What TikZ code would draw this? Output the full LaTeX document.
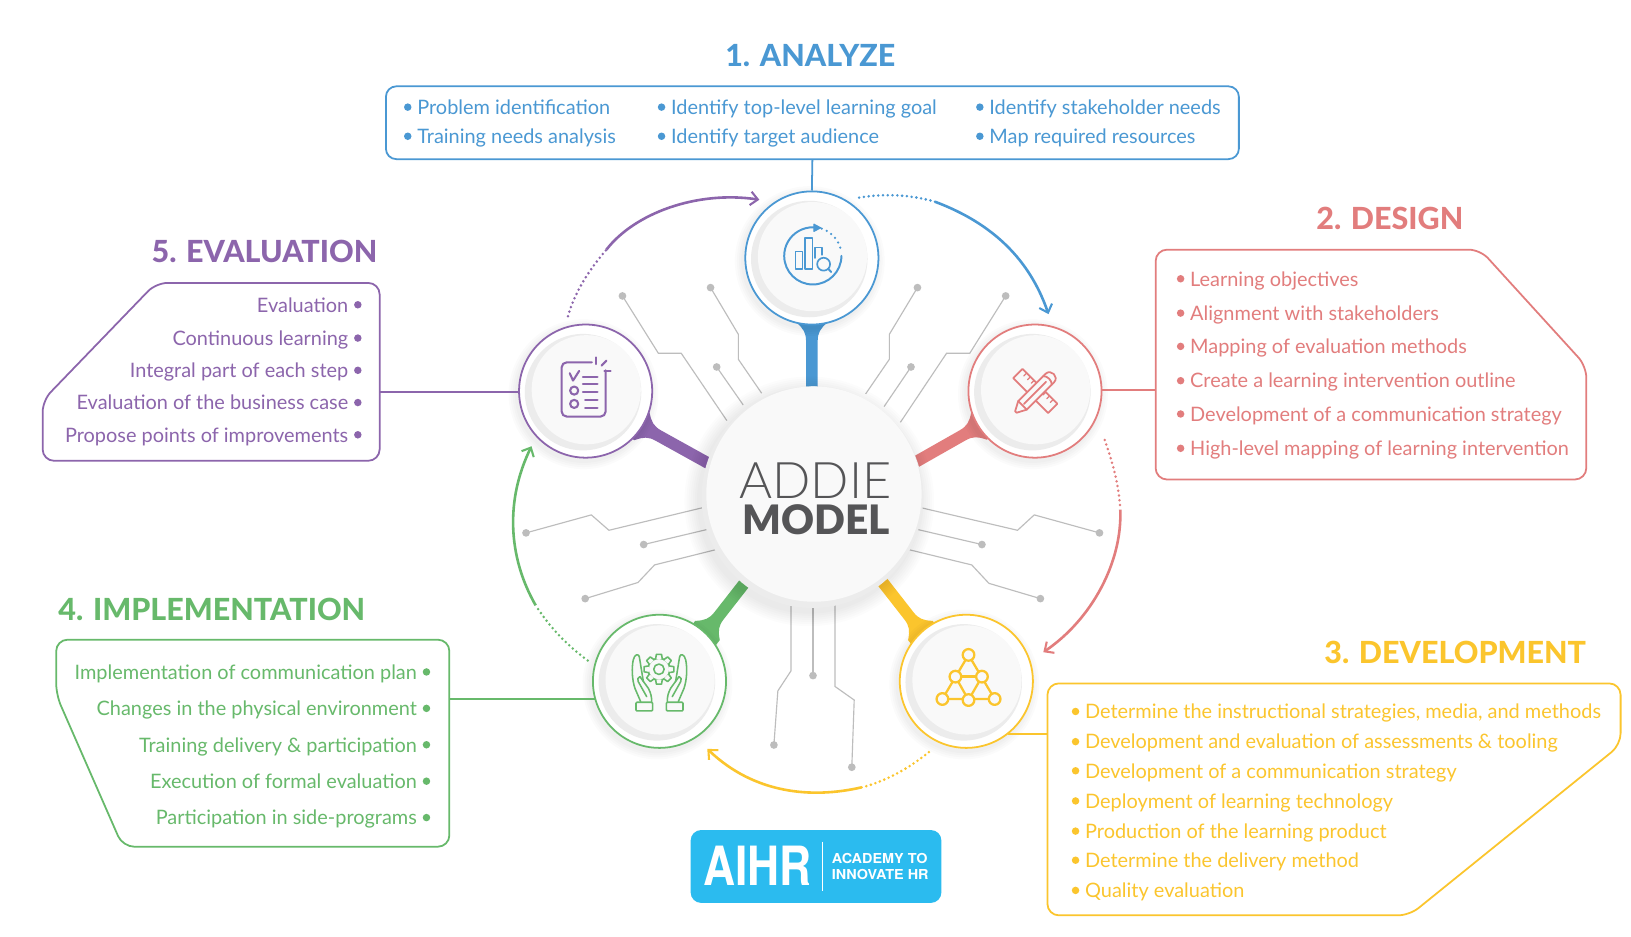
\documentclass[tikz,border=0pt]{standalone}
\usepackage{fontspec}
\setmainfont{Lato}
\newfontfamily\latolight{Lato Light}
\newfontfamily\latoblack{Lato Black}
\newfontfamily\latoheavy{Lato Heavy}
\newfontfamily\heros{TeX Gyre Heros}
\usetikzlibrary{arrows.meta}
\definecolor{cblue}{HTML}{4A98D3}
\definecolor{cred}{HTML}{E27D7D}
\definecolor{cyel}{HTML}{FBC52D}
\definecolor{cgrn}{HTML}{67B96B}
\definecolor{cpur}{HTML}{8C65AC}
\definecolor{clogo}{HTML}{2BBBEF}
\definecolor{ctrace}{HTML}{BDBDBD}
\definecolor{cpale}{HTML}{F9F9F9}
\definecolor{crim}{HTML}{ECECEC}
\definecolor{cdark}{HTML}{555557}
\tikzset{
  panel/.style={line width=1.7pt,rounded corners=11pt},
  link/.style={line width=1.7pt},
  ttl/.style={font=\latoheavy\fontsize{29.3}{29.3}\selectfont,inner sep=0pt},
  itm/.style={font=\fontsize{19.15}{19.15}\selectfont,inner sep=0pt},
  trace/.style={draw=ctrace,line width=1.1pt},
  tdot/.style={fill=ctrace},
  solidarc/.style={line width=2.5pt,-{Straight Barb[length=7pt,width=13pt,line width=2pt]}},
  dotarc/.style={line width=2.7pt,line cap=round,dash pattern=on 0pt off 4.6pt},
  ring/.style={circle,minimum size=128pt,inner sep=0pt,line width=1.7pt,fill=none},
  icn/.style={line width=1.9pt,line join=round,line cap=round},
}
% bullet at left, text right of it
\newcommand{\bl}[5]{\fill[#1] (#2,#3) circle (3.6pt); \node[itm,text=#1,anchor=base west] at (#4,#3+7) {#5};}
% text right aligned, bullet right of it
\newcommand{\br}[5]{\fill[#1] (#2,#3) circle (3.6pt); \node[itm,text=#1,anchor=base east] at (#4,#3+7) {#5};}
\newcommand{\stemshape}[5]{\fill[#1,shift={(#2,#3)},rotate=#4] (50,15) -- (62,15) .. controls (68,8) and (72,5.6) .. (80,5.6) -- (#5,5.6) -- (#5,-5.6) -- (80,-5.6) .. controls (72,-5.6) and (68,-8) .. (62,-15) -- (50,-15) -- cycle;}
\newcommand{\discs}[2]{%
  \foreach \k in {8,6,4,2}{\fill[black,opacity=.014] (#1-2,#2+3) circle ({64+\k});}
  \fill[white] (#1,#2) circle (64);
  \fill[crim] (#1-2.5,#2+1) circle (56);
  \fill[cpale] (#1+.6,#2-1.3) circle (52.5);
}
\begin{document}
\begin{tikzpicture}[x=1pt,y=-1pt]
\useasboundingbox (0,0) rectangle (1568,900.8);
\fill[white] (0,0) rectangle (1568,900.8);

% traces
\draw[trace] (598.4,284.5) -- (632.9,339.6) -- (654.9,339.6) -- (698.8,404.4);
\draw[trace] (683.1,276.5) -- (709.8,321.4) -- (709.8,345.4) -- (732.2,378);
\draw[trace] (689,352.8) -- (714.5,389.3);
\draw[trace] (882,276.5) -- (855,321.4) -- (855,345.4) -- (832.2,378.7);
\draw[trace] (875.8,352.8) -- (849.9,390.9);
\draw[trace] (966.8,284.5) -- (932.3,339.6) -- (910,339.6) -- (865.6,406);
\draw[trace] (505.7,512.3) -- (568.5,495) -- (585.4,509.8) -- (680,487);
\draw[trace] (618.8,523.5) -- (680,509);
\draw[trace] (562.6,575.5) -- (613.3,560) -- (629.3,543.1) -- (690,528);
\draw[trace] (1057,512.3) -- (994.3,495) -- (978.2,509.8) -- (885,488);
\draw[trace] (944,523.5) -- (882,509);
\draw[trace] (1000.2,575.5) -- (950.7,560.8) -- (934.2,543.1) -- (872,528);
\draw[trace] (760.4,578) -- (760.4,645) -- (747.8,664.2) -- (744,716.2);
\draw[trace] (781.6,578) -- (781.6,649.5);
\draw[trace] (802.8,578) -- (802.8,660) -- (821.2,673) -- (818.9,737.6);
\foreach \p in {(598.4,284.5),(683.1,276.5),(689,352.8),(882,276.5),(875.8,352.8),(966.8,284.5),(505.7,512.3),(618.8,523.5),(562.6,575.5),(1057,512.3),(944,523.5),(1000.2,575.5),(744,716.2),(781.6,649.5),(818.9,737.6)}{\fill[tdot] \p circle (3.7);}

% stems
\stemshape{cblue}{780.5}{248}{-90}{124}
\stemshape{cred}{995}{379}{209.6}{135}
\stemshape{cyel}{923}{655}{128}{130}
\stemshape{cgrn}{642}{655}{52}{130}
\stemshape{cpur}{563}{380}{-29}{135}

% centre
\foreach \k in {14,12,10,8,6,4,2}{\fill[black,opacity=.011] (778,482) circle ({106+\k});}
\fill[crim] (781,478) circle (106.5);
\fill[cpale] (782.5,475) circle (103.5);
\node[inner sep=0pt,text=cdark,font=\latolight\fontsize{48.5}{48.5}\selectfont] (addie) at (784,462) {ADDIE};
\node[inner sep=0pt,text=cdark,font=\latoblack\fontsize{39}{39}\selectfont] (model) at (785,500) {MODEL};

% small circles
\discs{780.5}{248}
\discs{995}{376}
\discs{929}{655}
\discs{634}{655}
\discs{563}{376}
\node[ring,draw=cblue] (an) at (780.5,248) {};
\node[ring,draw=cred] (de) at (995,376) {};
\node[ring,draw=cyel] (dv) at (929,655) {};
\node[ring,draw=cgrn] (im) at (634,655) {};
\node[ring,draw=cpur] (ev) at (563,376) {};

% panels
\node[draw=cblue,line width=1.7pt,rounded corners=10pt,minimum width=820pt,minimum height=70pt,inner sep=0pt] (anbox) at (781,118) {};
\draw[cred,panel] (1111,240) -- (1423,240) -- (1525,352) -- (1525,461) -- (1111,461) -- cycle;
\draw[cyel,panel] (1007,657) -- (1558,657) -- (1558,716) -- (1355,880) -- (1007,880) -- cycle;
\draw[cgrn,panel] (54,615) -- (432,615) -- (432,814) -- (118,814) -- (54,668) -- cycle;
\draw[cpur,panel] (150,272) -- (365,272) -- (365,443) -- (41,443) -- (41,385) -- cycle;
\coordinate (debox) at (1111,375);
\coordinate (dvbox) at (1007,706);
\coordinate (dvring) at (969,706);
\coordinate (imbox) at (432,672);
\coordinate (evbox) at (365,377);
\draw[cblue,link] (anbox.south) -- (an.north);
\draw[cred,link] (de.east |- debox) -- (debox);
\draw[cyel,link] (dvring) -- (dvbox);
\draw[cgrn,link] (imbox) -- (572,672);
\draw[cpur,link] (evbox) -- (ev.west |- evbox);

% arcs
\coordinate (a1) at (826,190); \coordinate (a2) at (899,194); \coordinate (a3) at (1008,302);
\draw[cblue,dotarc] (a1) .. controls (850,186) and (875,187) .. (a2);
\draw[cblue,solidarc] (a2) .. controls (955,215) and (990,250) .. (a3);
\coordinate (b1) at (1062,423); \coordinate (b2) at (1077,490); \coordinate (b3) at (1003,627);
\draw[cred,dotarc] (b1) .. controls (1070,445) and (1076,468) .. (b2);
\draw[cred,solidarc] (b2) .. controls (1079,540) and (1050,595) .. (b3);
\coordinate (c1) at (893,723); \coordinate (c2) at (828,757); \coordinate (c3) at (680,720);
\draw[cyel,dotarc] (c1) .. controls (875,738) and (850,752) .. (c2);
\draw[cyel,solidarc] (c2) .. controls (780,768) and (725,763) .. (c3);
\coordinate (d1) at (565,635); \coordinate (d2) at (515,582); \coordinate (d3) at (511,429);
\draw[cgrn,dotarc] (d1) .. controls (545,620) and (530,605) .. (d2);
\draw[cgrn,solidarc] (d2) .. controls (488,535) and (486,480) .. (d3);
\coordinate (e1) at (546,304); \coordinate (e2) at (583,240); \coordinate (e3) at (730,192);
\draw[cpur,dotarc] (e1) .. controls (553,280) and (566,260) .. (e2);
\draw[cpur,solidarc] (e2) .. controls (610,205) and (670,183) .. (e3);

% titles
\node[ttl,text=cblue] at (779,53) {1. ANALYZE};
\node[ttl,text=cred,anchor=east] at (1407,210) {2. DESIGN};
\node[ttl,text=cyel,anchor=east] at (1525,627) {3. DEVELOPMENT};
\node[ttl,text=cgrn,anchor=west] at (56,586) {4. IMPLEMENTATION};
\node[ttl,text=cpur,anchor=east] at (363,242) {5. EVALUATION};

% items
\bl{cblue}{392}{103}{401}{Problem identification}
\bl{cblue}{392}{131}{401}{Training needs analysis}
\bl{cblue}{636}{103}{645}{Identify top-level learning goal}
\bl{cblue}{636}{131}{645}{Identify target audience}
\bl{cblue}{942}{103}{951}{Identify stakeholder needs}
\bl{cblue}{942}{131}{951}{Map required resources}

\bl{cred}{1135}{268}{1144}{Learning objectives}
\bl{cred}{1135}{301}{1144}{Alignment with stakeholders}
\bl{cred}{1135}{333}{1144}{Mapping of evaluation methods}
\bl{cred}{1135}{366}{1144}{Create a learning intervention outline}
\bl{cred}{1135}{398}{1144}{Development of a communication strategy}
\bl{cred}{1135}{431}{1144}{High-level mapping of learning intervention}

\bl{cyel}{1034}{684}{1043}{Determine the instructional strategies, media, and methods}
\bl{cyel}{1034}{713}{1043}{Development and evaluation of assessments \& tooling}
\bl{cyel}{1034}{741}{1043}{Development of a communication strategy}
\bl{cyel}{1034}{770}{1043}{Deployment of learning technology}
\bl{cyel}{1034}{799}{1043}{Production of the learning product}
\bl{cyel}{1034}{827}{1043}{Determine the delivery method}
\bl{cyel}{1034}{856}{1043}{Quality evaluation}

\br{cgrn}{410}{646}{401}{Implementation of communication plan}
\br{cgrn}{410}{681}{401}{Changes in the physical environment}
\br{cgrn}{410}{716}{401}{Training delivery \& participation}
\br{cgrn}{410}{751}{401}{Execution of formal evaluation}
\br{cgrn}{410}{786}{401}{Participation in side-programs}

\br{cpur}{344}{293}{335}{Evaluation}
\br{cpur}{344}{325}{335}{Continuous learning}
\br{cpur}{344}{356}{335}{Integral part of each step}
\br{cpur}{344}{387}{335}{Evaluation of the business case}
\br{cpur}{344}{418}{335}{Propose points of improvements}

% icon: analyze
\begin{scope}[icn,draw=cblue]
\draw (808.9,246) arc[start angle=0,end angle=272,radius=27.5];
\draw[fill=cblue,line width=1pt] (782.5,215.5) -- (789,219) -- (782.5,222.5) -- cycle;
\draw[dash pattern=on 0pt off 5.3pt,line width=2.4pt] (789.9,219.8) arc[start angle=-72,end angle=-6,radius=27.5];
\draw[line width=1.6pt] (764.7,258.6) rectangle (771.4,241.9);
\draw[line width=1.6pt] (774,258.6) rectangle (781.2,229);
\draw[line width=1.6pt] (783.2,248) -- (783.2,238) -- (790.2,238) -- (790.2,245);
\draw[line width=1.6pt] (791.8,254) circle (6.2);
\draw[line width=1.9pt] (796.3,258.4) -- (799,261.5);
\end{scope}

% icon: checklist
\begin{scope}[icn,draw=cpur,line width=2pt]
\draw[rounded corners=5pt] (569,348.3) -- (539.9,348.3) -- (539.9,400.5) -- (582.3,400.5) -- (582.3,356);
\draw (547.7,358.8) -- (550.9,365.9) -- (556.8,356.6);
\draw (552,375.5) circle (3.9);
\draw (552,388.3) circle (3.9);
\draw (560.3,362) -- (574.4,362);
\draw (560.3,369) -- (574.4,369);
\draw (560.3,376.5) -- (574.4,376.5);
\draw (562.5,384.5) -- (574.4,384.5);
\draw (562.5,392.5) -- (574.4,392.5);
\draw (573.2,343.5) -- (573.2,350);
\draw (583,346.7) -- (578.3,351.5);
\draw (581,356.3) -- (587,356.3);
\end{scope}

% icon: ruler and pencil
\begin{scope}[icn,draw=cred,line width=1.7pt,shift={(995.3,375.9)},rotate=-45]
\draw (-23.7,-6.3) rectangle (23.7,6.3);
\foreach \t in {-18,-13,-8,8,13,18}{\draw[line width=1.2pt] (\t,-6.3) -- (\t,-2.5);}
\end{scope}
\begin{scope}[icn,draw=cred,line width=1.7pt,shift={(995,377.7)},rotate=45]
\draw[fill=cpale] (-17,-5.8) -- (20,-5.8) .. controls (27.5,-5.8) and (27.5,5.8) .. (20,5.8) -- (-17,5.8) -- (-26,1) -- (-26,-1) -- cycle;
\draw (17,-5.8) .. controls (20,-3) and (20,3) .. (17,5.8);
\draw (-17,-5.8) -- (-17,5.8);
\draw (-15,0) -- (15,0);
\end{scope}

% icon: network
\begin{scope}[icn,draw=cyel,line width=2.2pt]
\coordinate (n1) at (931.1,629.6); \coordinate (n2) at (918.5,650.5); \coordinate (n3) at (944,650.5);
\coordinate (n4) at (906,672); \coordinate (n5) at (931.1,673); \coordinate (n6) at (956.2,672);
\draw (n1) -- (n4) -- (n6) -- cycle;
\draw (n2) -- (n3);
\draw (n2) -- (n5) -- (n3);
\foreach \n in {n1,n2,n3,n4,n5,n6}{\draw[fill=cpale] (\n) circle (5.6);}
\end{scope}

% icon: hands and gear
\begin{scope}[icn,draw=cgrn,line width=1.5pt]
\draw (633.5,643.4) circle (5);
\draw (633.5,643.4) circle (10.6);
\foreach \a in {0,45,...,315}{
  \draw[fill=cpale,line width=1.5pt,shift={(633.5,643.4)},rotate=\a] (9.8,-3.2) -- (14.3,-2.5) -- (14.3,2.5) -- (9.8,3.2);
}
\foreach \s in {1,-1}{
 \begin{scope}[shift={(634,0)},xscale=\s]
  \draw (-19.4,631.2) .. controls (-20,628.5) and (-24,628.5) .. (-25.2,634.4) .. controls (-26.8,642) and (-26.5,653) .. (-23.6,661.7) -- (-18.1,674.5);
  \draw (-19.4,631.2) -- (-15.5,655.3);
  \draw (-18.8,650.5) -- (-10.7,661.7) .. controls (-8,667) and (-7.5,670) .. (-7.5,675.1);
  \draw (-18.8,650.5) .. controls (-21,651) and (-21.5,653.5) .. (-20.4,655.3) -- (-12.3,669.7);
  \draw[rounded corners=1pt] (-22.6,675.1) rectangle (-6.6,683.5);
 \end{scope}
}
\end{scope}

% logo
\fill[clogo,rounded corners=10pt] (664,798) rectangle (905,868);
\node[inner sep=0pt,text=white,font=\heros\bfseries\fontsize{52}{52}\selectfont,xscale=.82,anchor=base] (aihr) at (728,851.6) {AIHR};
\draw[white,line width=1.4pt] (790.5,809) -- (790.5,857);
\node[inner sep=0pt,text=white,font=\heros\bfseries\fontsize{13.2}{13.2}\selectfont,xscale=1.05,anchor=base west] (ac) at (799.5,830) {ACADEMY TO};
\node[inner sep=0pt,text=white,font=\heros\bfseries\fontsize{13.2}{13.2}\selectfont,xscale=1.05,anchor=base west] (in) at (799.5,846) {INNOVATE HR};
\end{tikzpicture}
\end{document}
